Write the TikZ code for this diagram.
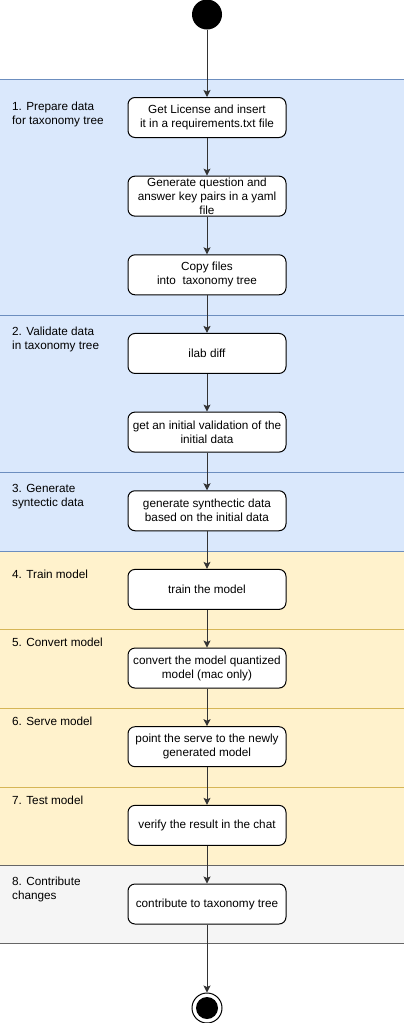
\documentclass[tikz,border=0pt]{standalone}
\usepackage{fontspec}
\setmainfont{Liberation Sans}
\usepackage{xcolor}
\usetikzlibrary{positioning,arrows.meta}

\definecolor{bluefill}{HTML}{DAE8FC}
\definecolor{blueline}{HTML}{6C8EBF}
\definecolor{yellowfill}{HTML}{FFF2CC}
\definecolor{yellowline}{HTML}{D6B656}
\definecolor{greyfill}{HTML}{F5F5F5}
\definecolor{greyline}{HTML}{666666}

\begin{document}
\begin{tikzpicture}[x=1pt,y=-1pt,
        font=\fontsize{11.75}{14}\selectfont,
        node distance=78.65pt, on grid,
        stepbox/.style={draw=black, fill=white, rounded corners=7pt, line width=1pt,
            minimum width=158pt, minimum height=40pt, inner xsep=1pt, inner ysep=0pt, align=center},
        lanelabel/.style={anchor=north west, inner sep=0pt, align=left},
        flow/.style={draw=black!80, line width=1pt, -{Stealth[length=7pt,width=7pt,inset=1.5pt]}}]
        \useasboundingbox (0,0) rectangle (404,1023);
        % swim lanes
        \filldraw[fill=bluefill, draw=blueline] (-2,79) rectangle (406,315);
        \filldraw[fill=bluefill, draw=blueline] (-2,315) rectangle (406,472);
        \filldraw[fill=bluefill, draw=blueline] (-2,472) rectangle (406,551);
        \filldraw[fill=yellowfill, draw=yellowline] (-2,551) rectangle (406,629);
        \filldraw[fill=yellowfill, draw=yellowline] (-2,629) rectangle (406,708);
        \filldraw[fill=yellowfill, draw=yellowline] (-2,708) rectangle (406,787);
        \filldraw[fill=yellowfill, draw=yellowline] (-2,787) rectangle (406,865);
        \filldraw[fill=greyfill, draw=greyline] (-2,865) rectangle (406,943);
        \draw[blueline] (-2,551) -- (406,551);
        \node (l1) [lanelabel] at (12,102) {1. Prepare data\\for taxonomy tree};
        \node (l2) [lanelabel] at (12,327) {2. Validate data\\in taxonomy tree};
        \node (l3) [lanelabel] at (12,484) {3. Generate\\syntectic data};
        \node (l4) [lanelabel] at (12,569.5) {4. Train model};
        \node (l5) [lanelabel] at (12,638) {5. Convert model};
        \node (l6) [lanelabel] at (12,717) {6. Serve model};
        \node (l7) [lanelabel] at (12,796) {7. Test model};
        \node (l8) [lanelabel] at (12,877) {8. Contribute\\changes};
        % activities
        \node (start) [circle, fill=black, minimum size=30pt, inner sep=0pt] at (207,14.5) {};
        \node (1) [stepbox] at (207,117.5) {Get License and insert\\it in a requirements.txt file};
        \node (2) [stepbox, below = of 1] {Generate question and\\answer key pairs in a yaml\\file};
        \node (3) [stepbox, below = of 2] {Copy files\\into\ \ taxonomy tree};
        \node (4) [stepbox, below = of 3] {ilab diff};
        \node (5) [stepbox, below = of 4] {get an initial validation of the\\initial data};
        \node (6) [stepbox, below = of 5] {generate synthectic data\\based on the initial data};
        \node (7) [stepbox, below = of 6] {train the model};
        \node (8) [stepbox, below = of 7] {convert the model quantized\\model (mac only)};
        \node (9) [stepbox, below = of 8] {point the serve to the newly\\generated model};
        \node (10) [stepbox, below = of 9] {verify the result in the chat};
        \node (11) [stepbox, below = of 10] {contribute to taxonomy tree};
        \node (end) [circle, draw=black, fill=white, line width=1pt, minimum size=30pt, inner sep=0pt] at (207,1008) {};
        \node (endin) [circle, fill=black, minimum size=22pt, inner sep=0pt] at (end) {};
        \draw[flow] (start) -- (1);
        \draw[flow] (1) -- (2);
        \draw[flow] (2) -- (3);
        \draw[flow] (3) -- (4);
        \draw[flow] (4) -- (5);
        \draw[flow] (5) -- (6);
        \draw[flow] (6) -- (7);
        \draw[flow] (7) -- (8);
        \draw[flow] (8) -- (9);
        \draw[flow] (9) -- (10);
        \draw[flow] (10) -- (11);
        \draw[flow] (11) -- (end);
    \end{tikzpicture}
\end{document}
